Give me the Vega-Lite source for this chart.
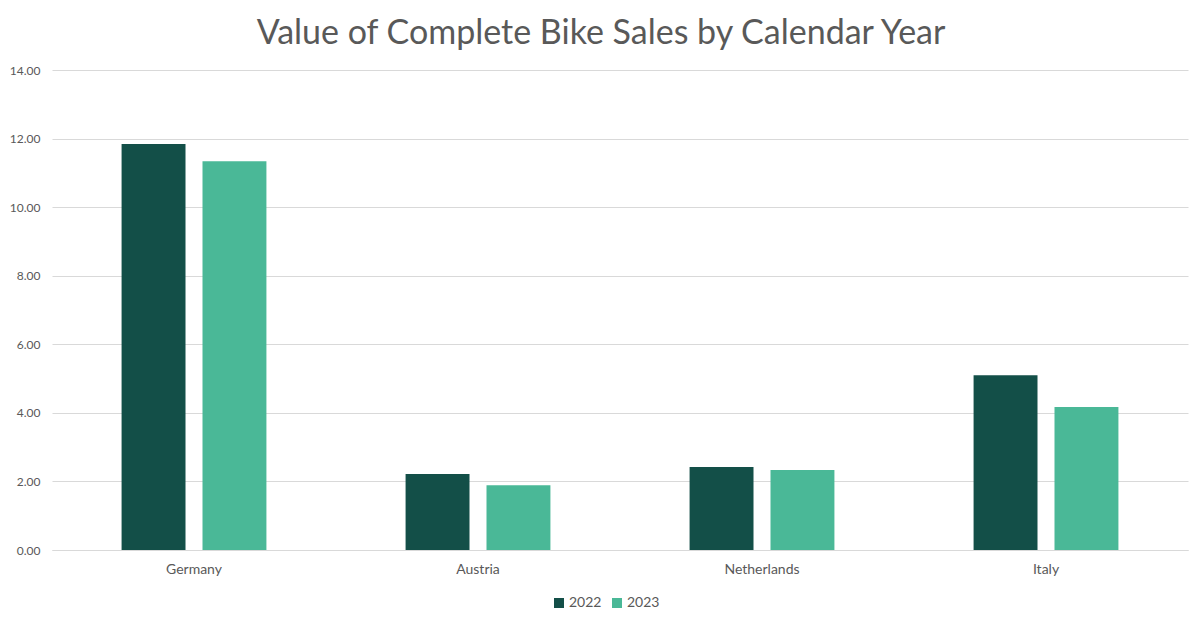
{
  "$schema": "https://vega.github.io/schema/vega-lite/v6.json",
  "width": 1136,
  "height": 480,
  "autosize": "none",
  "padding": {"left": 52, "top": 70, "right": 12, "bottom": 82},
  "background": "white",
  "title": {
    "text": "Value of Complete Bike Sales by Calendar Year",
    "font": "Lato",
    "fontSize": 34,
    "fontWeight": "normal",
    "color": "#595959",
    "anchor": "middle",
    "dx": -19,
    "offset": 13
  },
  "data": {
    "values": [
      {"country": "Germany", "year": "2022", "value": 11.84},
      {"country": "Germany", "year": "2023", "value": 11.34},
      {"country": "Austria", "year": "2022", "value": 2.22},
      {"country": "Austria", "year": "2023", "value": 1.89},
      {"country": "Netherlands", "year": "2022", "value": 2.42},
      {"country": "Netherlands", "year": "2023", "value": 2.33},
      {"country": "Italy", "year": "2022", "value": 5.10},
      {"country": "Italy", "year": "2023", "value": 4.17}
    ]
  },
  "mark": {"type": "bar"},
  "encoding": {
    "x": {
      "field": "country",
      "type": "nominal",
      "sort": null,
      "title": null,
      "scale": {"paddingInner": 0.49, "paddingOuter": 0.245},
      "axis": {
        "labelAngle": 0,
        "labelFont": "Lato",
        "labelFontSize": 14,
        "labelColor": "#595959",
        "labelPadding": 12,
        "ticks": false,
        "domainColor": "#d9d9d9",
        "grid": false
      }
    },
    "xOffset": {
      "field": "year",
      "type": "nominal",
      "scale": {"paddingInner": 0.21, "paddingOuter": 0}
    },
    "y": {
      "field": "value",
      "type": "quantitative",
      "title": null,
      "scale": {"domain": [0, 14]},
      "axis": {
        "values": [0, 2, 4, 6, 8, 10, 12, 14],
        "format": ".2f",
        "labelFont": "Lato",
        "labelFontSize": 12,
        "labelColor": "#595959",
        "labelPadding": 12,
        "ticks": false,
        "domain": false,
        "gridColor": "#d9d9d9",
        "gridWidth": 1
      }
    },
    "color": {
      "field": "year",
      "type": "nominal",
      "scale": {"domain": ["2022", "2023"], "range": ["#134f48", "#4ab897"]},
      "legend": {
        "title": null,
        "orient": "none",
        "direction": "horizontal",
        "legendX": 500,
        "legendY": 526,
        "symbolType": "square",
        "symbolSize": 100,
        "symbolStrokeWidth": 0,
        "labelFont": "Lato",
        "labelFontSize": 14,
        "labelColor": "#595959",
        "labelOffset": 3,
        "columnPadding": 8
      }
    }
  },
  "config": {"view": {"stroke": null}}
}
